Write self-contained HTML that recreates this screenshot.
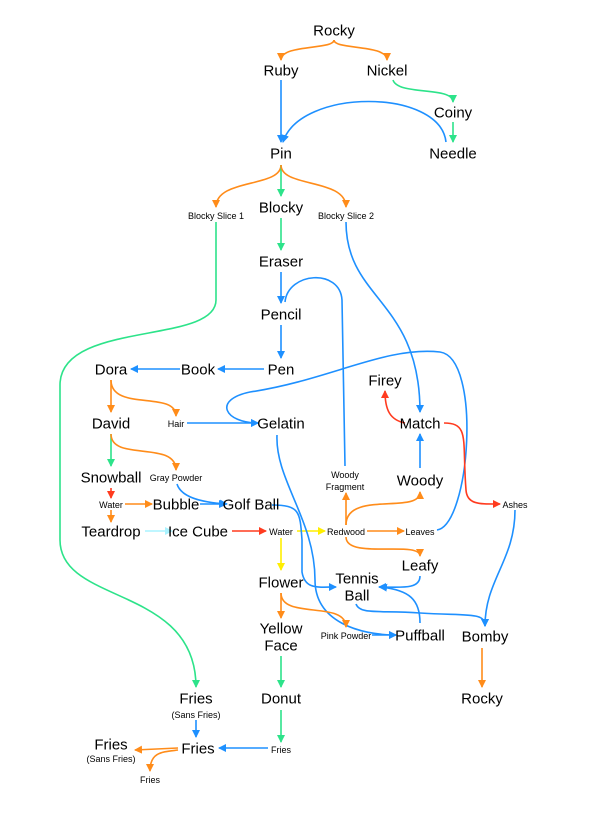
<!DOCTYPE html>
<html><head><style>
html,body{margin:0;padding:0;background:#fff}
svg{display:block}
text{font-family:"Liberation Sans",sans-serif;text-anchor:middle;dominant-baseline:middle;fill:#000}
.L{font-size:15px}.S{font-size:9px}
path{fill:none;stroke-width:1.6}
.o{stroke:#ff8c1a}.b{stroke:#1e90ff}.g{stroke:#2de38a}.r{stroke:#ff3b1f}.y{stroke:#ffee00}.c{stroke:#aaf3ff}
</style></head><body>
<svg width="600" height="835" viewBox="0 0 600 835">
<defs>
<marker id="mo" markerWidth="8" markerHeight="8" refX="7" refY="4" orient="auto" markerUnits="userSpaceOnUse"><polygon points="0,0 8,4 0,8" fill="#ff8c1a"/></marker>
<marker id="mb" markerWidth="8" markerHeight="8" refX="7" refY="4" orient="auto" markerUnits="userSpaceOnUse"><polygon points="0,0 8,4 0,8" fill="#1e90ff"/></marker>
<marker id="mg" markerWidth="8" markerHeight="8" refX="7" refY="4" orient="auto" markerUnits="userSpaceOnUse"><polygon points="0,0 8,4 0,8" fill="#2de38a"/></marker>
<marker id="mr" markerWidth="8" markerHeight="8" refX="7" refY="4" orient="auto" markerUnits="userSpaceOnUse"><polygon points="0,0 8,4 0,8" fill="#ff3b1f"/></marker>
<marker id="my" markerWidth="8" markerHeight="8" refX="7" refY="4" orient="auto" markerUnits="userSpaceOnUse"><polygon points="0,0 8,4 0,8" fill="#ffee00"/></marker>
<marker id="mc" markerWidth="8" markerHeight="8" refX="7" refY="4" orient="auto" markerUnits="userSpaceOnUse"><polygon points="0,0 8,4 0,8" fill="#aaf3ff"/></marker>
</defs>
<path class="o" marker-end="url(#mo)" d="M334,40 C334,50 281,44 281,60"/>
<path class="o" marker-end="url(#mo)" d="M334,40 C334,50 387,44 387,60"/>
<path class="b" marker-end="url(#mb)" d="M281,80 L281,142"/>
<path class="g" marker-end="url(#mg)" d="M393,80 C398,96 453,86 453,102"/>
<path class="g" marker-end="url(#mg)" d="M453,122 L453,142"/>
<path class="b" marker-end="url(#mb)" d="M446,142 C440,88 300,88 283,142"/>
<path class="o" marker-end="url(#mo)" d="M281,165 C281,188 216,178 216,207"/>
<path class="g" marker-end="url(#mg)" d="M281,165 L281,196"/>
<path class="o" marker-end="url(#mo)" d="M281,165 C281,188 346,178 346,207"/>
<path class="g" marker-end="url(#mg)" d="M216,222 L216,300 C216,345 60,320 60,385 L60,540 C60,605 196,585 196,687"/>
<path class="g" marker-end="url(#mg)" d="M281,218 L281,250"/>
<path class="b" marker-end="url(#mb)" d="M281,272 L281,303"/>
<path class="b" marker-end="url(#mb)" d="M346,222 C346,300 420,300 420,412"/>
<path class="b" d="M345,466 L342,300 C340,268 288,272 285,302"/>
<path class="b" marker-end="url(#mb)" d="M281,325 L281,358"/>
<path class="b" marker-end="url(#mb)" d="M264,369 L218,369"/>
<path class="b" marker-end="url(#mb)" d="M180,369 L131,369"/>
<path class="b" marker-end="url(#mb)" d="M437,530 C470,525 482,358 440,352 C385,346 330,380 250,392 C212,400 225,423 258,423"/>
<path class="o" marker-end="url(#mo)" d="M111,380 L111,412"/>
<path class="o" marker-end="url(#mo)" d="M111,380 C111,412 176,390 176,416"/>
<path class="b" marker-end="url(#mb)" d="M187,423 L258,423"/>
<path class="g" marker-end="url(#mg)" d="M111,434 L111,466"/>
<path class="o" marker-end="url(#mo)" d="M111,434 C111,462 176,440 176,470"/>
<path class="r" marker-end="url(#mr)" d="M111,488 L111,498"/>
<path class="o" marker-end="url(#mo)" d="M111,510 L111,522"/>
<path class="o" marker-end="url(#mo)" d="M125,504 L152,504"/>
<path class="b" marker-end="url(#mb)" d="M177,484 C182,500 210,503 227,504"/>
<path class="b" marker-end="url(#mb)" d="M200,504 L226,504"/>
<path class="c" marker-end="url(#mc)" d="M145,531 L172,531"/>
<path class="r" marker-end="url(#mr)" d="M232,531 L266,531"/>
<path class="y" marker-end="url(#my)" d="M297,531 L325,531"/>
<path class="y" marker-end="url(#my)" d="M281,538 L281,570"/>
<path class="b" marker-end="url(#mb)" d="M277,435 C275,480 315,520 315,580 C315,622 360,635 396,635"/>
<path class="b" marker-end="url(#mb)" d="M272,505 C300,505 300,512 302,540 L302,572 C305,590 318,587 336,587"/>
<path class="o" marker-end="url(#mo)" d="M346,525 L346,493"/>
<path class="o" marker-end="url(#mo)" d="M346,525 C346,490 420,515 420,492"/>
<path class="o" marker-end="url(#mo)" d="M367,531 L404,531"/>
<path class="o" marker-end="url(#mo)" d="M346,537 C346,560 420,540 420,556"/>
<path class="b" marker-end="url(#mb)" d="M420,468 L420,434"/>
<path class="r" marker-end="url(#mr)" d="M405,423 C390,420 385,410 385,391"/>
<path class="r" marker-end="url(#mr)" d="M444,423 C470,423 462,440 466,490 C467,505 480,504 500,504"/>
<path class="b" marker-end="url(#mb)" d="M515,510 C515,560 485,580 485,626"/>
<path class="b" marker-end="url(#mb)" d="M420,576 C420,590 400,587 379,587"/>
<path class="b" marker-end="url(#mb)" d="M420,623 C420,600 410,590 380,587"/>
<path class="b" marker-end="url(#mb)" d="M356,604 C360,615 380,610 420,613 C470,616 485,612 485,626"/>
<path class="o" marker-end="url(#mo)" d="M281,593 L281,618"/>
<path class="o" marker-end="url(#mo)" d="M281,593 C281,620 346,600 346,627"/>
<path class="b" marker-end="url(#mb)" d="M372,635 L396,635"/>
<path class="g" marker-end="url(#mg)" d="M281,656 L281,687"/>
<path class="o" marker-end="url(#mo)" d="M482,648 L482,687"/>
<path class="b" marker-end="url(#mb)" d="M196,720 L196,737"/>
<path class="g" marker-end="url(#mg)" d="M281,710 L281,742"/>
<path class="b" marker-end="url(#mb)" d="M268,748 L219,748"/>
<path class="o" marker-end="url(#mo)" d="M178,748 L135,750"/>
<path class="o" marker-end="url(#mo)" d="M178,750 C162,752 150,752 150,771"/>

<g transform="translate(0,1.5)">
<text class="L" x="334" y="30">Rocky</text>
<text class="L" x="281" y="70">Ruby</text>
<text class="L" x="387" y="70">Nickel</text>
<text class="L" x="453" y="112">Coiny</text>
<text class="L" x="453" y="153">Needle</text>
<text class="L" x="281" y="153">Pin</text>
<text class="S" x="216" y="215">Blocky Slice 1</text>
<text class="L" x="281" y="207">Blocky</text>
<text class="S" x="346" y="215">Blocky Slice 2</text>
<text class="L" x="281" y="261">Eraser</text>
<text class="L" x="281" y="314">Pencil</text>
<text class="L" x="281" y="369">Pen</text>
<text class="L" x="198" y="369">Book</text>
<text class="L" x="111" y="369">Dora</text>
<text class="L" x="111" y="423">David</text>
<text class="S" x="176" y="423">Hair</text>
<text class="L" x="281" y="423">Gelatin</text>
<text class="L" x="385" y="380">Firey</text>
<text class="L" x="420" y="423">Match</text>
<text class="L" x="111" y="477">Snowball</text>
<text class="S" x="176" y="477">Gray Powder</text>
<text class="S" x="345" y="474">Woody</text>
<text class="S" x="345" y="486">Fragment</text>
<text class="L" x="420" y="480">Woody</text>
<text class="S" x="111" y="504">Water</text>
<text class="L" x="176" y="504">Bubble</text>
<text class="L" x="251" y="504">Golf Ball</text>
<text class="S" x="515" y="504">Ashes</text>
<text class="L" x="111" y="531">Teardrop</text>
<text class="L" x="198" y="531">Ice Cube</text>
<text class="S" x="281" y="531">Water</text>
<text class="S" x="346" y="531">Redwood</text>
<text class="S" x="420" y="531">Leaves</text>
<text class="L" x="420" y="565">Leafy</text>
<text class="L" x="281" y="582">Flower</text>
<text class="L" x="357" y="578">Tennis</text>
<text class="L" x="357" y="595">Ball</text>
<text class="L" x="281" y="628">Yellow</text>
<text class="L" x="281" y="645">Face</text>
<text class="S" x="346" y="635">Pink Powder</text>
<text class="L" x="420" y="635">Puffball</text>
<text class="L" x="485" y="636">Bomby</text>
<text class="L" x="196" y="698">Fries</text>
<text class="S" x="196" y="714">(Sans Fries)</text>
<text class="L" x="281" y="698">Donut</text>
<text class="L" x="482" y="698">Rocky</text>
<text class="L" x="111" y="744">Fries</text>
<text class="S" x="111" y="758">(Sans Fries)</text>
<text class="L" x="198" y="748">Fries</text>
<text class="S" x="281" y="749">Fries</text>
<text class="S" x="150" y="779">Fries</text>
</g>
</svg>
</body></html>
